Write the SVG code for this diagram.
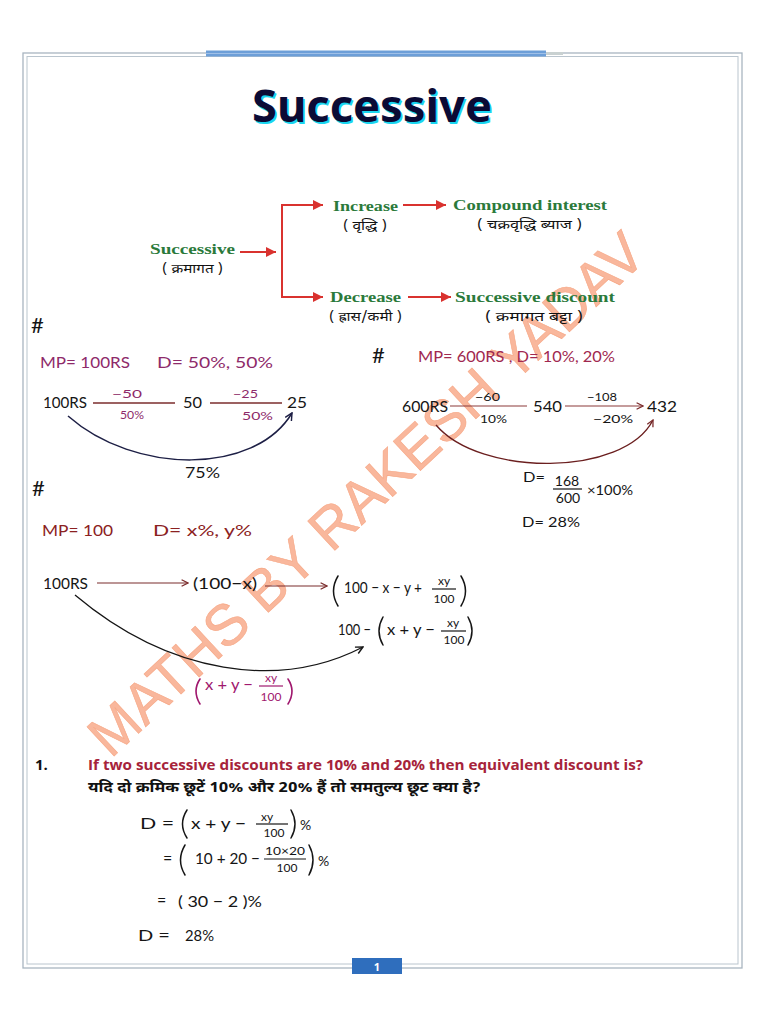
<svg xmlns="http://www.w3.org/2000/svg" width="768" height="1024" viewBox="0 0 768 1024">
<defs>
<style>
.tree{font-family:"Liberation Serif","DejaVu Serif",serif;font-weight:bold;fill:#2b7a3b;font-size:15.5px}
.dev{font-family:"Noto Sans Devanagari","Lohit Devanagari","Noto Sans","Noto Sans CJK SC",sans-serif;font-size:12.5px;fill:#111}
.hw{font-family:Lato,"Open Sans",sans-serif;font-size:16px;fill:#151515}
.sm{font-size:12px}
.md{font-size:14px}
.hash{font-size:22px}
.mag{fill:#8e2a6a}
.crim{fill:#a0284f}
.dred{fill:#8b2121}
.pink{fill:#a0186e}
.ln{stroke:#7b2c2c;stroke-width:1.3;fill:none}
.bar{stroke:#151515;stroke-width:1.2}
.par{fill:none;stroke:#151515;stroke-width:1.5;stroke-linecap:round}
.redarrow{stroke:#d9322f;stroke-width:2;fill:none}
</style>
<marker id="rh" viewBox="0 0 10 10" refX="10" refY="5" markerWidth="10" markerHeight="10" markerUnits="userSpaceOnUse" orient="auto"><path d="M0 0 L10 5 L0 10 Z" fill="#d9322f"/></marker>
<marker id="ohb" viewBox="0 0 10 10" refX="9" refY="5" markerWidth="9" markerHeight="9" markerUnits="userSpaceOnUse" orient="auto"><path d="M1 1 L9 5 L1 9" fill="none" stroke="#1d1f45" stroke-width="1.6"/></marker>
<marker id="ohr" viewBox="0 0 10 10" refX="9" refY="5" markerWidth="8" markerHeight="8" markerUnits="userSpaceOnUse" orient="auto"><path d="M1 1 L9 5 L1 9" fill="none" stroke="#7b2c2c" stroke-width="1.6"/></marker>
<marker id="ohk" viewBox="0 0 10 10" refX="9" refY="5" markerWidth="9" markerHeight="9" markerUnits="userSpaceOnUse" orient="auto"><path d="M1 1 L9 5 L1 9" fill="none" stroke="#151515" stroke-width="1.6"/></marker>
</defs>
<rect width="768" height="1024" fill="#ffffff"/>

<!-- watermark -->
<text transform="translate(366,494) rotate(-43)" text-anchor="middle" dy="20" font-family="'Liberation Sans',Arial,sans-serif" font-size="58" textLength="735" lengthAdjust="spacingAndGlyphs" fill="#f9b79c" stroke="#f6a785" stroke-width="0.6">MATHS BY RAKESH YADAV</text>

<!-- page frame -->
<g id="frame">
<rect x="23" y="53" width="719" height="915" fill="none" stroke="#a9b5c0" stroke-width="1.3"/>
<rect x="27" y="56.5" width="711" height="907.5" fill="none" stroke="#bac5ce" stroke-width="1"/>
<rect x="206" y="50.5" width="340" height="6" fill="#6d9fd8"/>
<line x1="206" y1="53.5" x2="546" y2="53.5" stroke="#9fc0e8" stroke-width="1"/>
<rect x="546" y="52" width="17" height="3" fill="#c9d1d1"/>
<rect x="352" y="958" width="50" height="16" fill="#2f6ebd"/>
<text x="377" y="970.5" text-anchor="middle" font-family="'Open Sans','Liberation Sans',sans-serif" font-size="11" font-weight="bold" fill="#ffffff">1</text>
</g>

<!-- title -->
<g id="title">
<text x="253.5" y="123.5" font-family="'Noto Sans','Open Sans',sans-serif" font-weight="bold" font-size="44" textLength="240" lengthAdjust="spacingAndGlyphs" fill="#19d6f0">Successive</text>
<text x="252" y="122" font-family="'Noto Sans','Open Sans',sans-serif" font-weight="bold" font-size="44" textLength="240" lengthAdjust="spacingAndGlyphs" fill="#0b0b35">Successive</text>
</g>

<!-- tree connectors -->
<g id="connectors">
<line class="redarrow" x1="240" y1="252" x2="276" y2="252" marker-end="url(#rh)"/>
<path class="redarrow" d="M323 205 H282 V297 H323" marker-end="url(#rh)"/>
<line class="redarrow" x1="282" y1="205" x2="323" y2="205" marker-end="url(#rh)"/>
<line class="redarrow" x1="403" y1="205" x2="446" y2="205" marker-end="url(#rh)"/>
<line class="redarrow" x1="408" y1="297" x2="451" y2="297" marker-end="url(#rh)"/>
</g>

<g id="node-successive">
<text class="tree" x="150" y="254" textLength="85" lengthAdjust="spacingAndGlyphs">Successive</text>
<text class="dev" x="162" y="273" textLength="61" lengthAdjust="spacingAndGlyphs">( क्रमागत )</text>
</g>
<g id="node-increase">
<text class="tree" x="333" y="211" textLength="65" lengthAdjust="spacingAndGlyphs">Increase</text>
<text class="dev" x="343" y="230" textLength="44" lengthAdjust="spacingAndGlyphs">( वृद्धि )</text>
</g>
<g id="node-compound">
<text class="tree" x="453" y="210" textLength="154" lengthAdjust="spacingAndGlyphs">Compound interest</text>
<text class="dev" x="477" y="229" textLength="105" lengthAdjust="spacingAndGlyphs">( चक्रवृद्धि ब्याज )</text>
</g>
<g id="node-decrease">
<text class="tree" x="330" y="302" textLength="71" lengthAdjust="spacingAndGlyphs">Decrease</text>
<text class="dev" x="329" y="321" textLength="73" lengthAdjust="spacingAndGlyphs">( ह्रास/कमी )</text>
</g>
<g id="node-discount">
<text class="tree" x="455" y="302" textLength="160" lengthAdjust="spacingAndGlyphs">Successive discount</text>
<text class="dev" x="485" y="321" textLength="98" lengthAdjust="spacingAndGlyphs">( क्रमागत बट्टा )</text>
</g>

<!-- example 1 -->
<g id="example1">
<text class="hw hash" x="31" y="333">#</text>
<text class="hw mag" x="40" y="368" textLength="90" lengthAdjust="spacingAndGlyphs">MP= 100RS</text>
<text class="hw mag" x="157" y="368" textLength="116" lengthAdjust="spacingAndGlyphs">D= 50%, 50%</text>
<text class="hw" x="43" y="408" textLength="44" lengthAdjust="spacingAndGlyphs">100RS</text>
<line class="ln" x1="93" y1="403" x2="175" y2="403"/>
<text class="hw mag sm" x="112" y="398" textLength="30" lengthAdjust="spacingAndGlyphs">−50</text>
<text class="hw mag sm" x="120" y="419" textLength="24" lengthAdjust="spacingAndGlyphs">50%</text>
<text class="hw" x="183" y="408" textLength="19" lengthAdjust="spacingAndGlyphs">50</text>
<line class="ln" x1="210" y1="403" x2="282" y2="403"/>
<text class="hw mag sm" x="233" y="398" textLength="25" lengthAdjust="spacingAndGlyphs">−25</text>
<text class="hw mag sm" x="242" y="420" textLength="31" lengthAdjust="spacingAndGlyphs">50%</text>
<text class="hw" x="287" y="408" textLength="20" lengthAdjust="spacingAndGlyphs">25</text>
<path d="M68 416 C135 475 255 475 292 413" fill="none" stroke="#1d1f45" stroke-width="1.5" marker-end="url(#ohb)"/>
<text class="hw" x="185" y="478" textLength="35" lengthAdjust="spacingAndGlyphs" fill="#7a2020">75%</text>
</g>

<!-- example 2 -->
<g id="example2">
<text class="hw hash" x="372" y="363">#</text>
<text class="hw crim" x="418" y="362" textLength="197" lengthAdjust="spacingAndGlyphs">MP= 600RS , D= 10%, 20%</text>
<text class="hw" x="402" y="412" textLength="46" lengthAdjust="spacingAndGlyphs">600RS</text>
<line x1="450" y1="406" x2="527" y2="406" stroke="#8b3a3a" stroke-width="1.2"/>
<text class="hw sm" x="475" y="401" textLength="25" lengthAdjust="spacingAndGlyphs" fill="#8a2060">−60</text>
<text class="hw sm" x="480" y="423" textLength="27" lengthAdjust="spacingAndGlyphs" fill="#8a2060">10%</text>
<text class="hw" x="533" y="412" textLength="29" lengthAdjust="spacingAndGlyphs">540</text>
<line x1="565" y1="406" x2="643" y2="406" stroke="#8b3a3a" stroke-width="1.2" marker-end="url(#ohr)"/>
<text class="hw sm" x="587" y="401" textLength="30" lengthAdjust="spacingAndGlyphs" fill="#8a2060">−108</text>
<text class="hw sm" x="593" y="423" textLength="40" lengthAdjust="spacingAndGlyphs" fill="#8a2060">−20%</text>
<text class="hw" x="647" y="412" textLength="30" lengthAdjust="spacingAndGlyphs">432</text>
<path d="M436 425 C480 477 624 477 653 420" fill="none" stroke="#6b1f1f" stroke-width="1.4" marker-end="url(#ohr)"/>
<text class="hw md" x="523" y="482" textLength="22" lengthAdjust="spacingAndGlyphs">D=</text>
<text class="hw md" x="567" y="486" text-anchor="middle">168</text>
<line class="bar" x1="553" y1="489" x2="582" y2="489"/>
<text class="hw md" x="568" y="503" text-anchor="middle">600</text>
<text class="hw md" x="587" y="495" textLength="46" lengthAdjust="spacingAndGlyphs">×100%</text>
<text class="hw md" x="522" y="527" textLength="58" lengthAdjust="spacingAndGlyphs">D= 28%</text>
</g>

<!-- example 3 -->
<g id="example3">
<text class="hw hash" x="32" y="496">#</text>
<text class="hw dred" x="42" y="536" textLength="71" lengthAdjust="spacingAndGlyphs">MP= 100</text>
<text class="hw dred" x="153" y="536" textLength="99" lengthAdjust="spacingAndGlyphs">D= x%, y%</text>
<text class="hw" x="43" y="589" textLength="45" lengthAdjust="spacingAndGlyphs">100RS</text>
<line x1="97" y1="583" x2="188" y2="583" stroke="#7b2c2c" stroke-width="1.2" marker-end="url(#ohr)"/>
<text class="hw" x="193" y="589" textLength="64" lengthAdjust="spacingAndGlyphs">(100−x)</text>
<line x1="265" y1="586" x2="327" y2="586" stroke="#7b2c2c" stroke-width="1.2" marker-end="url(#ohr)"/>
<path class="par" d="M338 576 Q329 591 338 606"/>
<text class="hw" x="344" y="593" textLength="78" lengthAdjust="spacingAndGlyphs">100 − x − y +</text>
<text class="hw sm" x="444" y="585" text-anchor="middle">xy</text>
<line class="bar" x1="432" y1="589" x2="456" y2="589"/>
<text class="hw sm" x="444" y="603" text-anchor="middle">100</text>
<path class="par" d="M461 576 Q470 591 461 606"/>
<text class="hw" x="338" y="635" textLength="33" lengthAdjust="spacingAndGlyphs">100 −</text>
<path class="par" d="M383 617 Q375 631 383 645"/>
<text class="hw" x="387" y="635" textLength="48" lengthAdjust="spacingAndGlyphs">x + y −</text>
<text class="hw sm" x="453" y="627" text-anchor="middle">xy</text>
<line class="bar" x1="441" y1="631" x2="466" y2="631"/>
<text class="hw sm" x="454" y="644" text-anchor="middle">100</text>
<path class="par" d="M468 617 Q476 631 468 645"/>
<path d="M75 595 C170 675 280 690 363 647" fill="none" stroke="#151515" stroke-width="1.3" marker-end="url(#ohk)"/>
<path d="M200 679 Q192 691 200 704" fill="none" stroke="#a0186e" stroke-width="1.6" stroke-linecap="round"/>
<text class="hw pink" x="205" y="690" textLength="48" lengthAdjust="spacingAndGlyphs">x + y −</text>
<text class="hw sm pink" x="271" y="682" text-anchor="middle">xy</text>
<line x1="259" y1="686" x2="283" y2="686" stroke="#a0186e" stroke-width="1.2"/>
<text class="hw sm pink" x="271" y="701" text-anchor="middle">100</text>
<path d="M288 679 Q296 691 288 704" fill="none" stroke="#a0186e" stroke-width="1.6" stroke-linecap="round"/>
</g>

<!-- question 1 -->
<g id="question1">
<text x="35" y="770" font-family="'Open Sans','Noto Sans',sans-serif" font-weight="bold" font-size="15" fill="#111">1.</text>
<text x="88" y="770" font-family="'Open Sans','Noto Sans',sans-serif" font-weight="bold" font-size="15" textLength="555" lengthAdjust="spacingAndGlyphs" fill="#a6233a">If two successive discounts are 10% and 20% then equivalent discount is?</text>
<text class="dev" x="88" y="792" style="font-size:14.5px" font-weight="bold" textLength="393" lengthAdjust="spacingAndGlyphs">यदि दो क्रमिक छूटें 10% और 20% हैं तो समतुल्य छूट क्या है?</text>
</g>

<g id="solution1">
<text class="hw" x="140" y="829" textLength="34" lengthAdjust="spacingAndGlyphs">D =</text>
<path class="par" d="M187 810 Q178 824 187 838"/>
<text class="hw" x="191" y="829" textLength="55" lengthAdjust="spacingAndGlyphs">x + y −</text>
<text class="hw sm" x="267" y="821" text-anchor="middle">xy</text>
<line class="bar" x1="256" y1="824" x2="288" y2="824"/>
<text class="hw sm" x="274" y="837" text-anchor="middle">100</text>
<path class="par" d="M291 810 Q299 824 291 838"/>
<text class="hw md" x="300" y="830">%</text>

<text class="hw" x="163" y="864">=</text>
<path class="par" d="M185 845 Q176 860 185 875"/>
<text class="hw" x="195" y="864" textLength="65" lengthAdjust="spacingAndGlyphs">10 + 20 −</text>
<text class="hw sm" x="285" y="855" text-anchor="middle" textLength="40" lengthAdjust="spacingAndGlyphs">10×20</text>
<line class="bar" x1="264" y1="859" x2="306" y2="859"/>
<text class="hw sm" x="287" y="872" text-anchor="middle">100</text>
<path class="par" d="M309 845 Q317 860 309 875"/>
<text class="hw md" x="318" y="866">%</text>

<text class="hw" x="157" y="906">=</text>
<text class="hw" x="178" y="907" textLength="84" lengthAdjust="spacingAndGlyphs">( 30 − 2 )%</text>

<text class="hw" x="138" y="941" textLength="32" lengthAdjust="spacingAndGlyphs">D =</text>
<text class="hw" x="185" y="941" textLength="29" lengthAdjust="spacingAndGlyphs">28%</text>
</g>
</svg>
